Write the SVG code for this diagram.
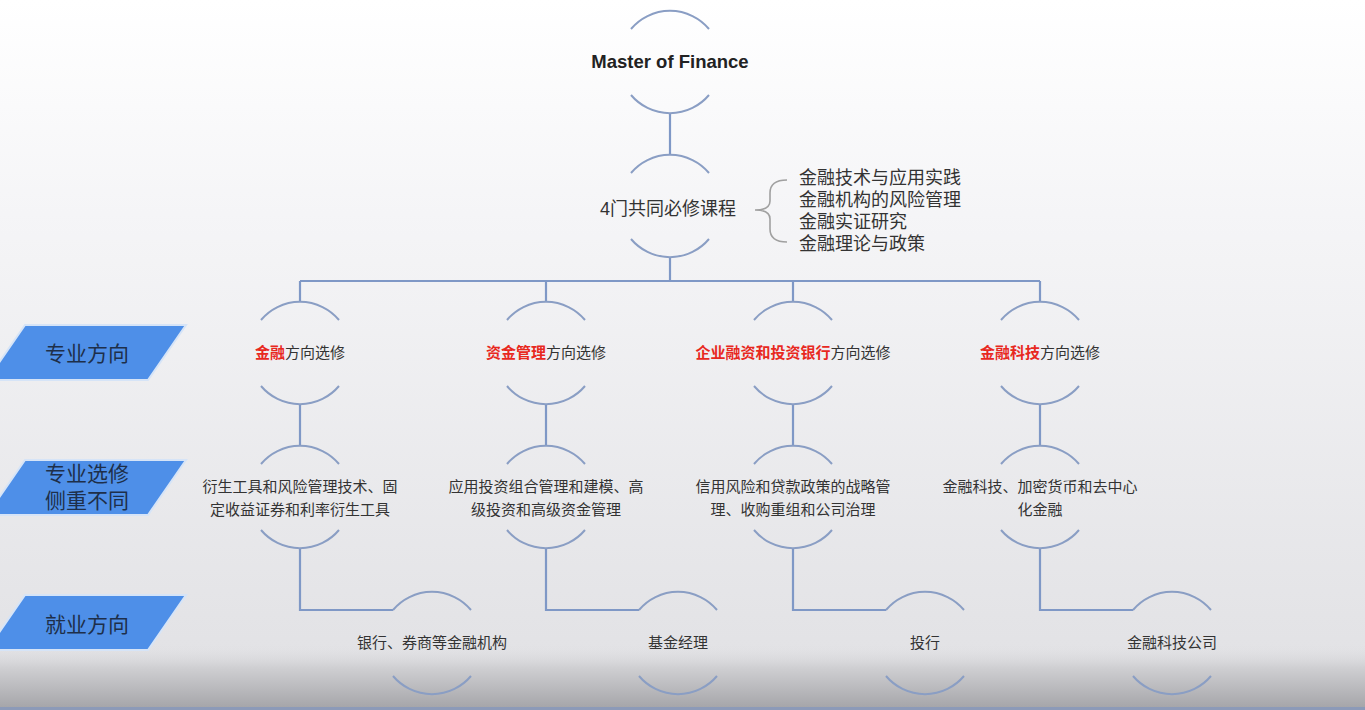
<svg xmlns="http://www.w3.org/2000/svg" width="1365" height="710" viewBox="0 0 1365 710">
<defs>
<linearGradient id="bg" x1="0" y1="0" x2="0" y2="1">
<stop offset="0" stop-color="#ffffff"/>
<stop offset="0.3" stop-color="#f5f5f7"/>
<stop offset="0.9" stop-color="#e3e3e6"/>
<stop offset="1" stop-color="#e0e0e3"/>
</linearGradient>
<linearGradient id="band" x1="0" y1="0" x2="0" y2="1">
<stop offset="0" stop-color="#e0e0e3" stop-opacity="0"/>
<stop offset="0.35" stop-color="#cfcfd2"/>
<stop offset="1" stop-color="#a3a3a7"/>
</linearGradient>
<style>
.arc{fill:none;stroke:#8a9ec4;stroke-width:2}
.con{fill:none;stroke:#7f98c6;stroke-width:2.2}
.t{font-family:"Liberation Sans","Noto Sans CJK SC",sans-serif;font-size:15px;fill:#333;text-anchor:middle}
.red{fill:#e8281e;font-weight:bold}
.lst{font-family:"Liberation Sans","Noto Sans CJK SC",sans-serif;font-size:18px;fill:#333}
.lab{fill:#4e8fe8;stroke:#d6e4f7;stroke-width:2}
.labt{font-family:"Liberation Sans","Noto Sans CJK SC",sans-serif;font-size:21px;fill:#1e2f4a;text-anchor:middle}
</style>
</defs>
<rect width="1365" height="710" fill="url(#bg)"/>
<rect y="645" width="1365" height="65" fill="url(#band)"/>
<rect y="707" width="1365" height="3" fill="#8c9ab8"/>

<g id="labels">
<g id="label-major">
<polygon class="lab" points="25,325 186,325 148,380 -13,380"/>
<text class="labt" x="87" y="361" lang="zh-CN">专业方向</text>
</g>
<g id="label-elective">
<polygon class="lab" points="25,460 186,460 148,515 -13,515"/>
<text class="labt" x="87" y="481" lang="zh-CN">专业选修<tspan x="87" dy="27">侧重不同</tspan></text>
</g>
<g id="label-career">
<polygon class="lab" points="25,595 186,595 148,650 -13,650"/>
<text class="labt" x="87" y="632" lang="zh-CN">就业方向</text>
</g>
</g>

<g id="connectors">
<path class="con" d="M670,113 V155"/>
<path class="con" d="M670,257 V281"/>
<path class="con" d="M300,281 H1040"/>
<path class="con" d="M300,281 V302 M546,281 V302 M793,281 V302 M1040,281 V302"/>
<path class="con" d="M300,404 V446 M546,404 V446 M793,404 V446 M1040,404 V446"/>
<path class="con" d="M300,548 V610 H393"/>
<path class="con" d="M546,548 V610 H639"/>
<path class="con" d="M793,548 V610 H886"/>
<path class="con" d="M1040,548 V610 H1133"/>
</g>

<g id="node-master">
<path class="arc" d="M631,29 A51,51 0 0 1 709,29 M631,95 A51,51 0 0 0 709,95"/>
<text x="670" y="68" font-family="Liberation Sans, Arial, sans-serif" font-size="18.5" font-weight="bold" fill="#222" text-anchor="middle">Master of Finance</text>
</g>

<g id="node-core">
<path class="arc" d="M631,173 A51,51 0 0 1 709,173 M631,239 A51,51 0 0 0 709,239"/>
<text class="t" x="668" y="215" style="font-size:18px" lang="zh-CN">4门共同必修课程</text>
<path d="M787,180 Q770,180 770,193 V201 Q770,210 755,210 Q770,210 770,219 V229 Q770,242 787,242" fill="none" stroke="#a0a0a0" stroke-width="1.6"/>
<text class="lst" x="799" y="184" lang="zh-CN">金融技术与应用实践<tspan x="799" dy="22">金融机构的风险管理</tspan><tspan x="799" dy="22">金融实证研究</tspan><tspan x="799" dy="22">金融理论与政策</tspan></text>
</g>

<g id="node-finance">
<path class="arc" d="M261,320 A51,51 0 0 1 339,320 M261,386 A51,51 0 0 0 339,386"/>
<text class="t" x="300" y="358" lang="zh-CN"><tspan class="red">金融</tspan>方向选修</text>
</g>
<g id="node-fund">
<path class="arc" d="M507,320 A51,51 0 0 1 585,320 M507,386 A51,51 0 0 0 585,386"/>
<text class="t" x="546" y="358" lang="zh-CN"><tspan class="red">资金管理</tspan>方向选修</text>
</g>
<g id="node-ib">
<path class="arc" d="M754,320 A51,51 0 0 1 832,320 M754,386 A51,51 0 0 0 832,386"/>
<text class="t" x="793" y="358" lang="zh-CN"><tspan class="red">企业融资和投资银行</tspan>方向选修</text>
</g>
<g id="node-fintech">
<path class="arc" d="M1001,320 A51,51 0 0 1 1079,320 M1001,386 A51,51 0 0 0 1079,386"/>
<text class="t" x="1040" y="358" lang="zh-CN"><tspan class="red">金融科技</tspan>方向选修</text>
</g>

<g id="node-finance-courses">
<path class="arc" d="M261,464 A51,51 0 0 1 339,464 M261,530 A51,51 0 0 0 339,530"/>
<text class="t" x="300" y="492" lang="zh-CN">衍生工具和风险管理技术、固<tspan x="300" dy="23">定收益证券和利率衍生工具</tspan></text>
</g>
<g id="node-fund-courses">
<path class="arc" d="M507,464 A51,51 0 0 1 585,464 M507,530 A51,51 0 0 0 585,530"/>
<text class="t" x="546" y="492" lang="zh-CN">应用投资组合管理和建模、高<tspan x="546" dy="23">级投资和高级资金管理</tspan></text>
</g>
<g id="node-ib-courses">
<path class="arc" d="M754,464 A51,51 0 0 1 832,464 M754,530 A51,51 0 0 0 832,530"/>
<text class="t" x="793" y="492" lang="zh-CN">信用风险和贷款政策的战略管<tspan x="793" dy="23">理、收购重组和公司治理</tspan></text>
</g>
<g id="node-fintech-courses">
<path class="arc" d="M1001,464 A51,51 0 0 1 1079,464 M1001,530 A51,51 0 0 0 1079,530"/>
<text class="t" x="1040" y="492" lang="zh-CN">金融科技、加密货币和去中心<tspan x="1040" dy="23">化金融</tspan></text>
</g>

<g id="node-career-bank">
<path class="arc" d="M393,610 A51,51 0 0 1 471,610 M393,676 A51,51 0 0 0 471,676"/>
<text class="t" x="432" y="648" lang="zh-CN">银行、券商等金融机构</text>
</g>
<g id="node-career-fund">
<path class="arc" d="M639,610 A51,51 0 0 1 717,610 M639,676 A51,51 0 0 0 717,676"/>
<text class="t" x="678" y="648" lang="zh-CN">基金经理</text>
</g>
<g id="node-career-ib">
<path class="arc" d="M886,610 A51,51 0 0 1 964,610 M886,676 A51,51 0 0 0 964,676"/>
<text class="t" x="925" y="648" lang="zh-CN">投行</text>
</g>
<g id="node-career-fintech">
<path class="arc" d="M1133,610 A51,51 0 0 1 1211,610 M1133,676 A51,51 0 0 0 1211,676"/>
<text class="t" x="1172" y="648" lang="zh-CN">金融科技公司</text>
</g>
</svg>
